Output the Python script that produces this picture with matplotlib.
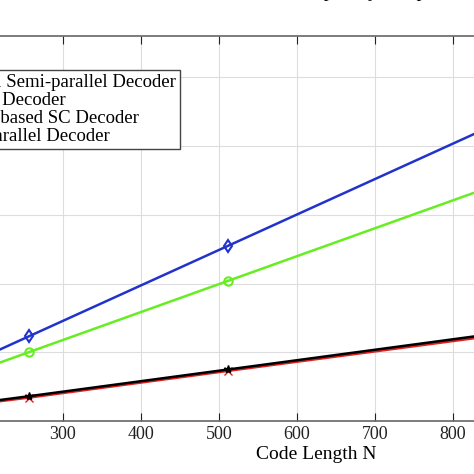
import matplotlib
matplotlib.use("Agg")
import matplotlib.pyplot as plt

plt.rcParams["font.family"] = ["Liberation Serif", "DejaVu Serif"]

code_len = [128, 256, 512, 1024]
conventional = [0.16, 0.34, 0.73, 1.50]
proposed_sc = [0.48, 1.00, 2.04, 4.12]
complex_pe = [0.57, 1.23, 2.55, 5.19]
two_bit = [0.17, 0.36, 0.75, 1.53]
labels = [
    "Conventional Semi-parallel Decoder",
    "Proposed SC Decoder",
    "Complex PE based SC Decoder",
    "2-bit Semi-parallel Decoder",
]

W = 474
fig = plt.figure(figsize=(4.74, 4.74), dpi=100)
x0, x1 = 200, 1050
ppu = 0.78  # pixels per unit N
left_px = 63 - (300 - x0) * ppu
ax = fig.add_axes([left_px / W, (W - 421) / W, (x1 - x0) * ppu / W, (421 - 36) / W])

ax.plot(code_len, conventional, color="#e02020", marker="x", ms=6, lw=1.8, label=labels[0])
ax.plot(code_len, proposed_sc, color="#66ee22", marker="o", ms=6, mfc="none", mew=1.5, lw=1.8, label=labels[1])
ax.plot(code_len, complex_pe, color="#2233cc", marker="d", ms=6, mfc="none", mew=1.5, lw=1.8, label=labels[2])
ax.plot(code_len, two_bit, color="black", marker="*", ms=6, lw=1.8, label=labels[3])

ax.set_xlim(x0, x1)
ax.set_ylim(0, 5.6)
ax.set_xticks([300, 400, 500, 600, 700, 800, 900, 1000])
ax.set_yticks([0, 1, 2, 3, 4, 5])
ax.grid(True, color="#dddddd", lw=0.8)
ax.tick_params(direction="in", labelsize=13, colors="#222222", length=6, top=True, right=True)
for s in ax.spines.values():
    s.set_color("#666666")
    s.set_linewidth(1.2)
ax.set_xlabel("Code Length N", fontsize=14, labelpad=2)

leg = ax.legend(loc="upper right", bbox_to_anchor=(189 / W, 1 - 61 / W),
                bbox_transform=fig.transFigure, fontsize=13.5, fancybox=False,
                framealpha=1, edgecolor="#444444", borderpad=0.2, labelspacing=0.05,
                handlelength=2.5)

fig.text(0.72, 1 + 3 / W, "Hardware complexity comparison", fontsize=14,
         ha="center", va="baseline")

fig.savefig("out.png", dpi=100)
